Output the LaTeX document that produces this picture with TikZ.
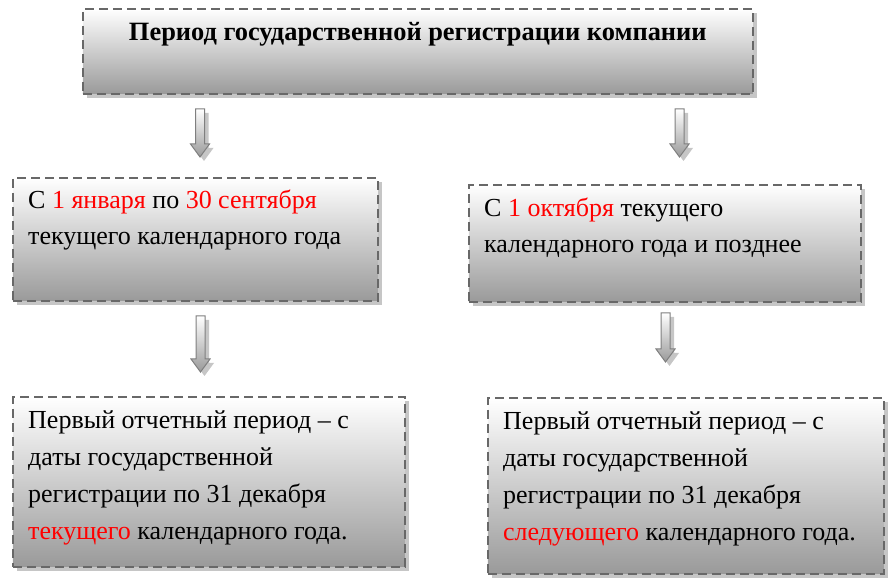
\documentclass[tikz,border=0pt]{standalone}
\usepackage{fontspec}
\setmainfont{Liberation Serif}
\usetikzlibrary{positioning,shadows}

\definecolor{boxgray}{HTML}{9A9A9A}
\definecolor{dashgray}{HTML}{686868}
\definecolor{shadowgray}{HTML}{C6C6C6}

\tikzset{
	periodbox/.style={anchor=north west, draw=dashgray, line width=1.6pt, dash pattern=on 9pt off 5pt,
		top color=white, bottom color=boxgray, inner sep=0pt,
		drop shadow={shadow xshift=4pt, shadow yshift=-4pt, fill=shadowgray, opacity=1}},
	boxtext/.style={anchor=north west, inner sep=0pt, align=left, font=\fontsize{26}{36}\selectfont},
	longtext/.style={boxtext, font=\fontsize{26}{37}\selectfont},
	titletext/.style={anchor=north, inner sep=0pt, font=\fontsize{26.4}{30}\selectfont\bfseries},
	blockarrow/.style={draw=dashgray!85, line width=1pt, top color=white, bottom color=boxgray,
		drop shadow={shadow xshift=4pt, shadow yshift=-4pt, fill=shadowgray, opacity=1}}
}

% block arrow pointing down: x, top y, tip y
\newcommand{\downarrowat}[3]{%
	\draw[blockarrow] (#1-4.5,#2) -- (#1+4.5,#2) -- (#1+4.5,#3+13) -- (#1+9.5,#3+13)
		-- (#1,#3) -- (#1-9.5,#3+13) -- (#1-4.5,#3+13) -- cycle;}

\begin{document}
\begin{tikzpicture}[x=1pt,y=1pt]
	\useasboundingbox (0,0) rectangle (895,587);

	% boxes
	\node[periodbox, minimum width=670pt, minimum height=85pt] (title) at (82,579) {};
	\node[periodbox, minimum width=365pt, minimum height=123pt] (jan) at (12,410) {};
	\node[periodbox, minimum width=392pt, minimum height=117pt] (oct) at (468,403) {};
	\node[periodbox, minimum width=392pt, minimum height=170pt] (curyear) at (12,191) {};
	\node[periodbox, minimum width=396pt, minimum height=176pt] (nextyear) at (487,190) {};

	% texts
	\node[titletext, below=14pt of title.north] (titlelbl) {Период государственной регистрации компании};
	\node[boxtext, below right=13pt and 16pt of jan.north west] (janlbl)
		{С \textcolor{red}{1 января} по \textcolor{red}{30 сентября}\\текущего календарного года};
	\node[boxtext, below right=14pt and 16pt of oct.north west] (octlbl)
		{С \textcolor{red}{1 октября} текущего\\календарного года и позднее};
	\node[longtext, below right=15pt and 16pt of curyear.north west] (curlbl)
		{Первый отчетный период -- с\\даты государственной\\регистрации по 31 декабря\\\textcolor{red}{текущего} календарного года.};
	\node[longtext, below right=15pt and 16pt of nextyear.north west] (nextlbl)
		{Первый отчетный период -- с\\даты государственной\\регистрации по 31 декабря\\\textcolor{red}{следующего} календарного года.};

	% arrows
	\downarrowat{200}{478}{430}
	\downarrowat{679.5}{478}{430}
	\downarrowat{200.5}{271}{215}
	\downarrowat{665.5}{274}{225}
\end{tikzpicture}
\end{document}
